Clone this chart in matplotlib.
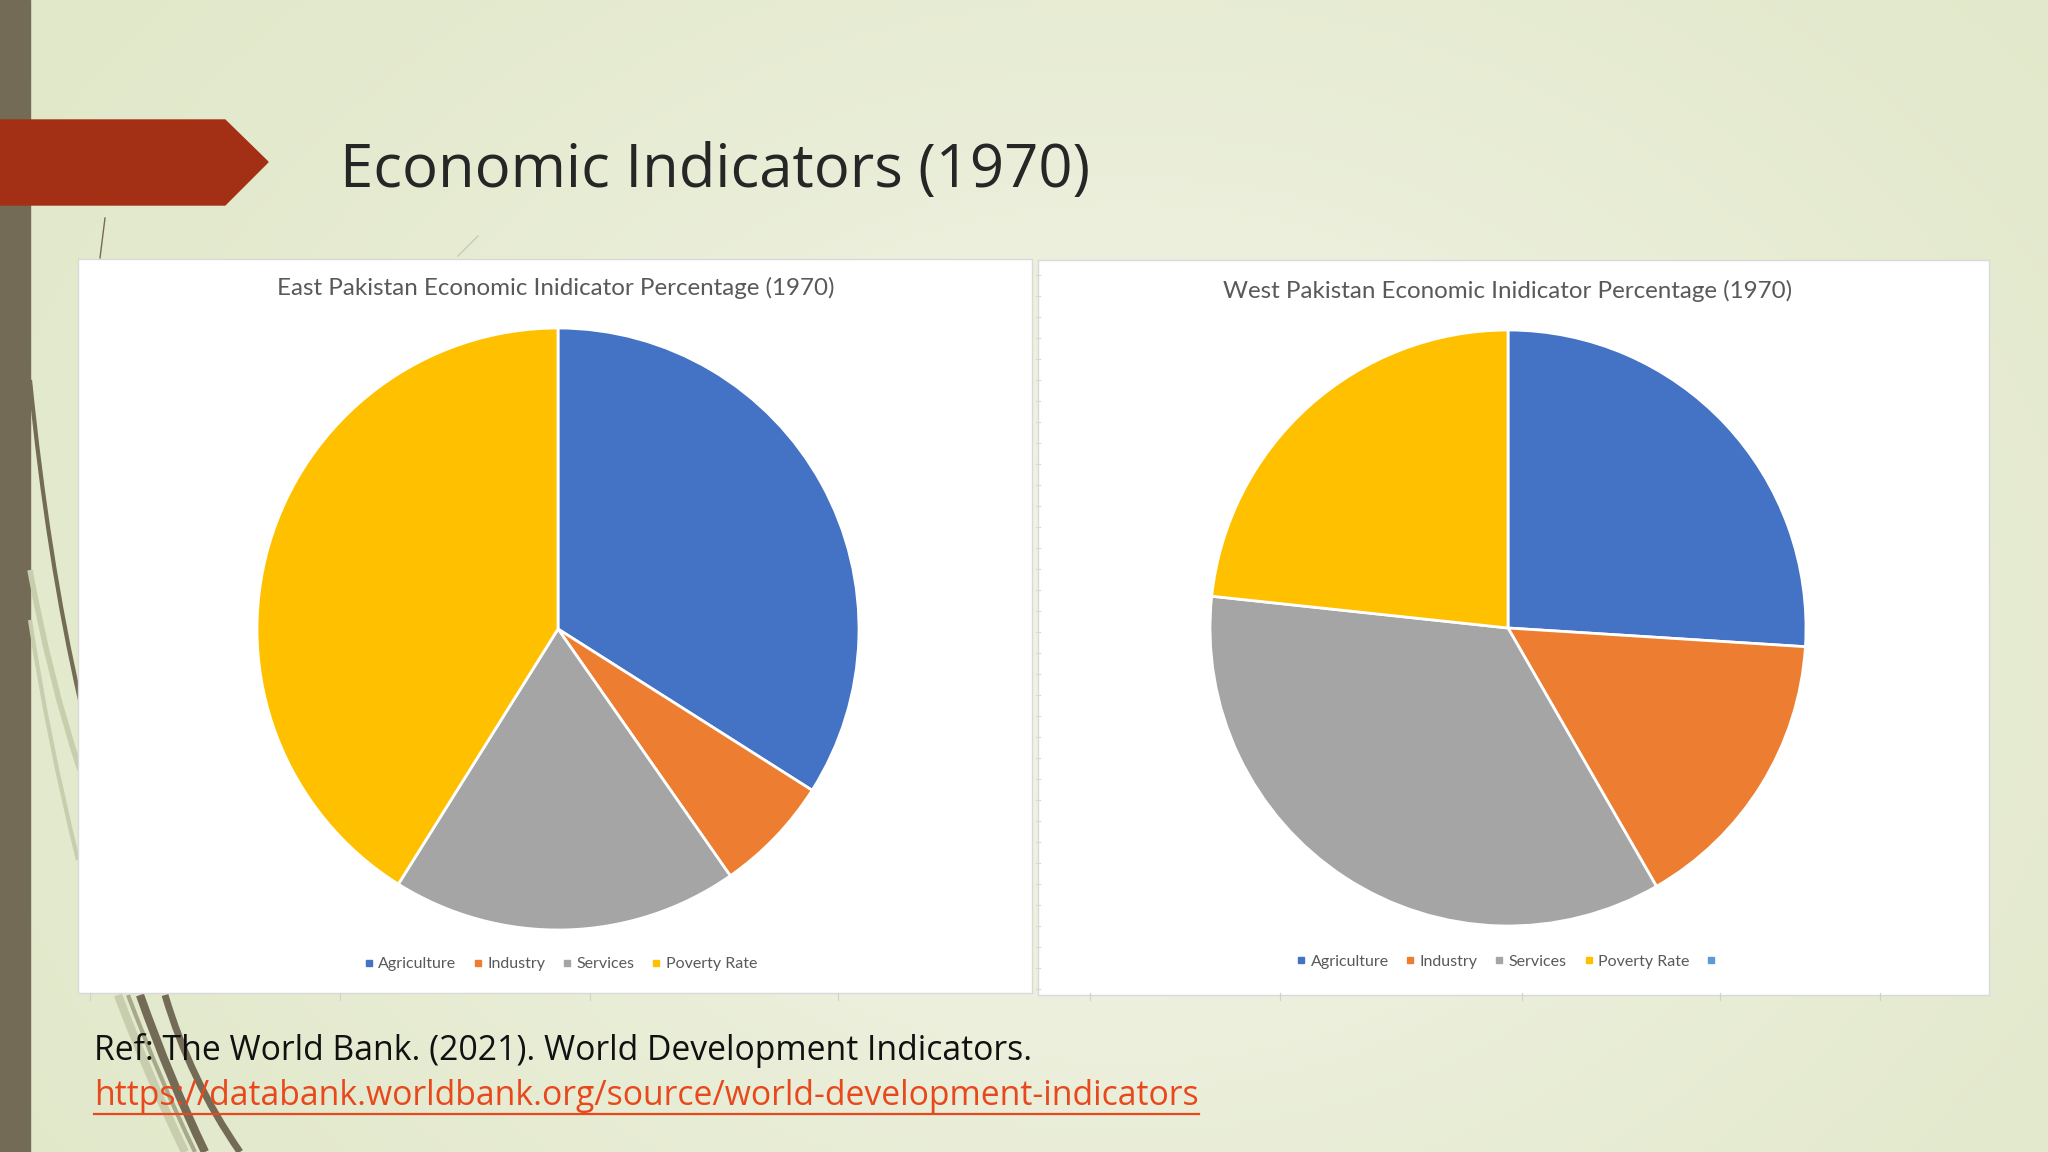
import matplotlib.pyplot as plt
import matplotlib.patches as mpatches
from matplotlib.path import Path
from matplotlib.lines import Line2D
import numpy as np

W, H = 2048, 1152
plt.rcParams["font.family"] = ["Lato", "DejaVu Sans"]

BLUE, ORANGE, GREY, GOLD, LBLUE = "#4472c4", "#ed7d31", "#a5a5a5", "#ffc000", "#5b9bd5"
TXT = "#595959"

# data (share of pie, %)
categories = ["Agriculture", "Industry", "Services", "Poverty Rate"]
east_vals = [34.0, 6.3, 18.6, 41.1]
west_vals = [26.0, 15.7, 35.0, 23.3]
west_legend = categories + [""]   # Excel left an empty 5th series in the west legend

fig = plt.figure(figsize=(W / 100, H / 100), dpi=100)

# slide background (soft green gradient)
bg = fig.add_axes([0, 0, 1, 1]); bg.axis("off")
xx, yy = np.meshgrid(np.linspace(0, 1, 256), np.linspace(0, 1, 144))
light = np.exp(-((xx - 0.55) ** 2 / 0.18 + (yy - 0.45) ** 2 / 0.35))
c0 = np.array([0.878, 0.906, 0.780]); c1 = np.array([0.945, 0.953, 0.898])
img = c0[None, None, :] * (1 - light[..., None]) + c1[None, None, :] * light[..., None]
bg.imshow(img, extent=[0, W, 0, H], aspect="auto", origin="upper")
bg.set_xlim(0, W); bg.set_ylim(H, 0)

# left dark bar
bg.add_patch(mpatches.Rectangle((0, 0), 30, H, color="#736b55", zorder=2))

# decorative "wisp" curves
def curve(p0, p1, p2, color, lw, alpha=1.0):
    path = Path([p0, p1, p2], [Path.MOVETO, Path.CURVE3, Path.CURVE3])
    bg.add_patch(mpatches.PathPatch(path, fill=False, edgecolor=color, lw=lw, alpha=alpha, zorder=2))

curve((30, 380), (48, 560), (80, 700), "#736b55", 3)
curve((30, 570), (50, 680), (80, 770), "#c8cdae", 4)
curve((30, 620), (48, 740), (78, 860), "#c8cdae", 3)
curve((118, 995), (150, 1080), (185, 1152), "#c8cdae", 6)
curve((140, 995), (170, 1080), (205, 1152), "#736b55", 6)
curve((165, 995), (190, 1080), (240, 1152), "#736b55", 5)
curve((128, 995), (160, 1080), (195, 1152), "#a8a98a", 3)
bg.plot([105, 100], [218, 258], color="#736b55", lw=1, zorder=2)
bg.plot([478, 458], [236, 256], color="#c8cdae", lw=1, zorder=2)

# red arrow banner
arrow = [(0, 120), (225, 120), (268, 162), (225, 205), (0, 205)]
bg.add_patch(mpatches.Polygon(arrow, closed=True, color="#a32f15", zorder=3))

bg.text(340, 171, "Economic Indicators (1970)", fontsize=43, color="#262626",
        family=["Open Sans", "DejaVu Sans"], va="center", ha="left", zorder=4)

# white chart boxes
for (x0, y0, x1, y1) in [(78, 259, 1032, 993), (1038, 260, 1989, 995)]:
    bg.add_patch(mpatches.Rectangle((x0, y0), x1 - x0, y1 - y0, facecolor="white",
                                    edgecolor="#d9d9d9", lw=1, zorder=3))
# faint cell lines under the boxes
for xs in [90, 340, 590, 838, 1090, 1280, 1522, 1720, 1880]:
    bg.plot([xs, xs], [993, 1000], color="#d0d0d0", lw=0.8, zorder=3)
for ys in range(275, 995, 21):
    bg.plot([1036, 1040], [ys, ys], color="#d9d9d9", lw=0.8, zorder=3)

bg.text(556, 288, "East Pakistan Economic Inidicator Percentage (1970)", fontsize=17.4,
        color=TXT, ha="center", va="center", zorder=4)
bg.text(1508, 291, "West Pakistan Economic Inidicator Percentage (1970)", fontsize=17.4,
        color=TXT, ha="center", va="center", zorder=4)

def pie_at(cx, cy, r, vals, colors):
    ax = fig.add_axes([(cx - r) / W, (H - cy - r) / H, 2 * r / W, 2 * r / H])
    ax.pie(vals, colors=colors, startangle=90, counterclock=False,
           wedgeprops=dict(edgecolor="white", linewidth=2))
    ax.set_xlim(-1.0, 1.0); ax.set_ylim(-1.0, 1.0)
    return ax

pie_at(558, 629, 301, east_vals, [BLUE, ORANGE, GREY, GOLD])
pie_at(1508, 628, 298, west_vals, [BLUE, ORANGE, GREY, GOLD])

def legend_at(x, y, labels, colors):
    handles = [Line2D([], [], marker="s", linestyle="none", markersize=4.5, color=c) for c in colors]
    fig.legend(handles, labels, loc="center", bbox_to_anchor=(x / W, 1 - y / H), ncol=len(labels),
               frameon=False, fontsize=11.5, labelcolor=TXT, handletextpad=0.25,
               columnspacing=1.0, handlelength=0.7)

legend_at(560, 964, categories, [BLUE, ORANGE, GREY, GOLD])
legend_at(1508, 962, west_legend, [BLUE, ORANGE, GREY, GOLD, LBLUE])

# reference
bg.text(94, 1050, "Ref: The World Bank. (2021). World Development Indicators.", fontsize=24.3,
        color="#111111", va="center", ha="left", family=["Open Sans", "DejaVu Sans"], zorder=4)
link = bg.text(94, 1096, "https://databank.worldbank.org/source/world-development-indicators",
               fontsize=24.3, color="#e8481c", va="center", ha="left",
               family=["Open Sans", "DejaVu Sans"], zorder=4)

fig.canvas.draw()
bb = link.get_window_extent()
bg.plot([bb.x0, bb.x1], [1114, 1114], color="#e8481c", lw=1.6, zorder=4)

fig.savefig("out.png", dpi=100)
